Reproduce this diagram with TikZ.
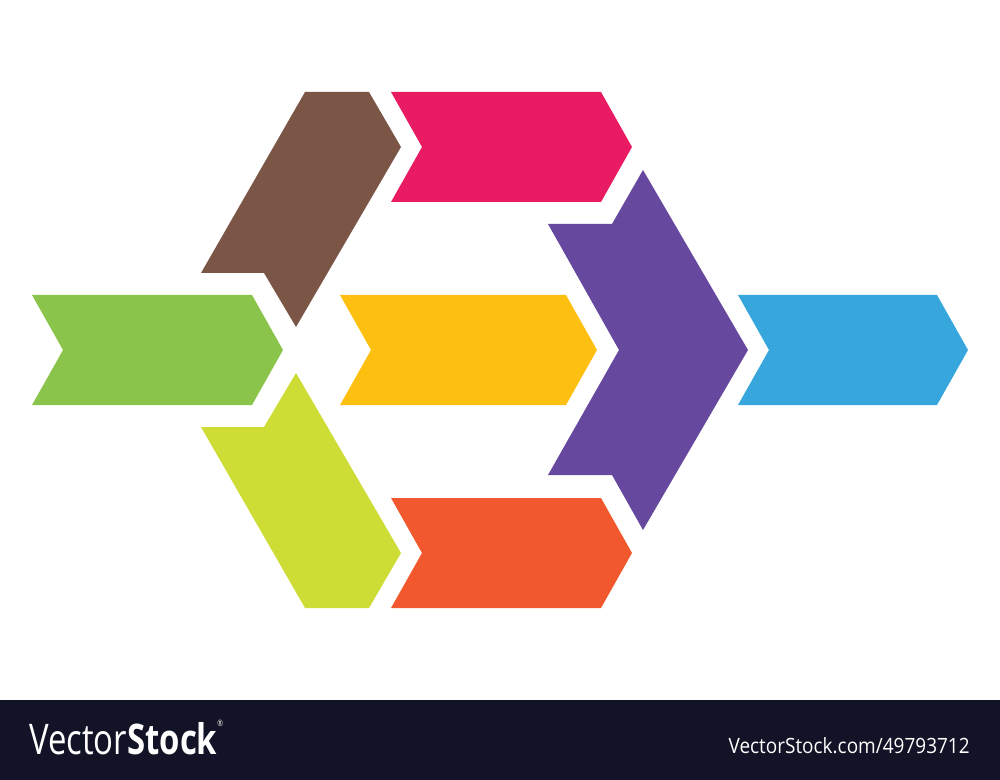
\documentclass[tikz,border=0pt]{standalone}
\usepackage{fontspec}
\setsansfont{Open Sans}
\usetikzlibrary{positioning}

\definecolor{arrowgreen}{RGB}{139,196,74}
\definecolor{arrowyellow}{RGB}{253,192,16}
\definecolor{arrowblue}{RGB}{54,166,220}
\definecolor{arrowpink}{RGB}{233,27,99}
\definecolor{arroworange}{RGB}{241,88,45}
\definecolor{arrowbrown}{RGB}{123,86,71}
\definecolor{arrowlime}{RGB}{206,220,54}
\definecolor{arrowpurple}{RGB}{102,72,158}
\definecolor{barnavy}{RGB}{18,19,38}

\begin{document}
\begin{tikzpicture}[x=0.02cm, y=-0.02cm,
    banner/.style={text=white, font=\sffamily, inner sep=0pt}]
      \useasboundingbox (0,0) rectangle (1000,780);
      % straight chevrons
      \fill[arrowgreen]  (32,295) -- (252,295) -- (283,350) -- (252,405) -- (32,405) -- (63,350) -- cycle;
      \fill[arrowyellow] (340,295) -- (566,295) -- (597,350) -- (566,405) -- (340,405) -- (371,350) -- cycle;
      \fill[arrowblue]   (738,295) -- (937,295) -- (968,350) -- (937,405) -- (738,405) -- (769,350) -- cycle;
      \fill[arrowpink]   (391,92) -- (601,92) -- (632,147) -- (601,202) -- (391,202) -- (422,147) -- cycle;
      \fill[arroworange] (391,498) -- (601,498) -- (632,553) -- (601,608) -- (391,608) -- (422,553) -- cycle;
      % slanted pieces
      \fill[arrowbrown] (305,92) -- (369,92) -- (401,147) -- (296,327) -- (264,273) -- (201,273) -- cycle;
      \fill[arrowlime]  (305,608) -- (369,608) -- (401,553) -- (296,373) -- (264,427) -- (201,427) -- cycle;
      \fill[arrowpurple] (643,170) -- (748,350) -- (643,530) -- (612,475) -- (548,475)
        -- (619,350) -- (548,224) -- (612,224) -- cycle;
      % bottom bar
      \fill[barnavy] (0,700) rectangle (1000,780);
      \node[banner, anchor=base west, font=\sffamily\fontsize{24}{24}\selectfont] (logo) at (29,754)
        {\addfontfeatures{FakeStretch=0.78}Vector\textbf{Stock}\raisebox{1.2ex}{\tiny\textregistered}};
      \node[banner, anchor=base east, font=\sffamily\fontsize{12}{12}\selectfont] (site) at (970,753)
        {\addfontfeatures{FakeStretch=0.9}VectorStock.com/49793712};
    \end{tikzpicture}
\end{document}
